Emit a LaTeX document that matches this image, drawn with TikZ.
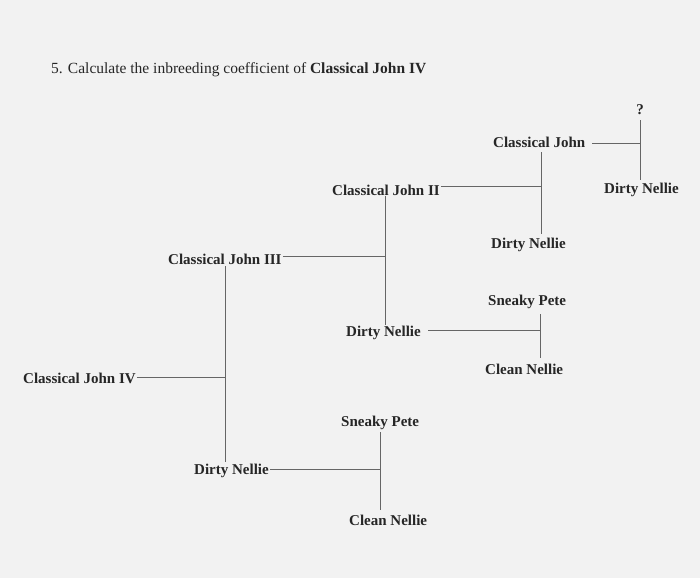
\documentclass[tikz,border=0pt]{standalone}
\usepackage{fontspec}
\setmainfont{Liberation Serif}
\begin{document}
\begin{tikzpicture}[x=1pt,y=-1pt,
  lbl/.style={font=\bfseries\fontsize{15}{17}\selectfont,text=black!85,inner sep=1pt},
  ln/.style={draw=black!60,line width=0.6pt}]
\fill[gray!10] (0,0) rectangle (700,578);
\useasboundingbox (0,0) rectangle (700,578);
\node[lbl,anchor=west,font=\fontsize{15.5}{17}\selectfont] (title) at (50,70) {5. Calculate the inbreeding coefficient of \textbf{Classical John IV}};
\node[lbl,anchor=west] (j4) at (22,378) {Classical John IV};
\node[lbl,anchor=west] (j3) at (167,259) {Classical John III};
\node[lbl,anchor=west] (dn1) at (193,471) {Dirty Nellie};
\node[lbl,anchor=west] (j2) at (331,190) {Classical John II};
\node[lbl,anchor=west] (dn2) at (345,333) {Dirty Nellie};
\node[lbl,anchor=west] (sp1) at (340,423) {Sneaky Pete};
\node[lbl,anchor=west] (cn1) at (348,520) {Clean Nellie};
\node[lbl,anchor=west] (j1) at (492,142) {Classical John};
\node[lbl,anchor=west] (dn3) at (490,245) {Dirty Nellie};
\node[lbl,anchor=west] (sp2) at (487,302) {Sneaky Pete};
\node[lbl,anchor=west] (cn2) at (484,369) {Clean Nellie};
\node[lbl] (q) at (640,110) {?};
\node[lbl,anchor=west] (dn4) at (603,190) {Dirty Nellie};
\draw[ln] (j4.east |- 0,377) -- (225,377);
\draw[ln] (225,266) -- (225,462);
\draw[ln] (j3.east |- 0,256) -- (385,256);
\draw[ln] (dn1.east |- 0,469) -- (380,469);
\draw[ln] (385,196) -- (385,325);
\draw[ln] (j2.east |- 0,186) -- (541,186);
\draw[ln] (541,152) -- (541,234);
\draw[ln] (428,330) -- (540,330);
\draw[ln] (540,314) -- (540,358);
\draw[ln] (380,432) -- (380,510);
\draw[ln] (592,143) -- (640,143);
\draw[ln] (640,120) -- (640,180);
\end{tikzpicture}
\end{document}
